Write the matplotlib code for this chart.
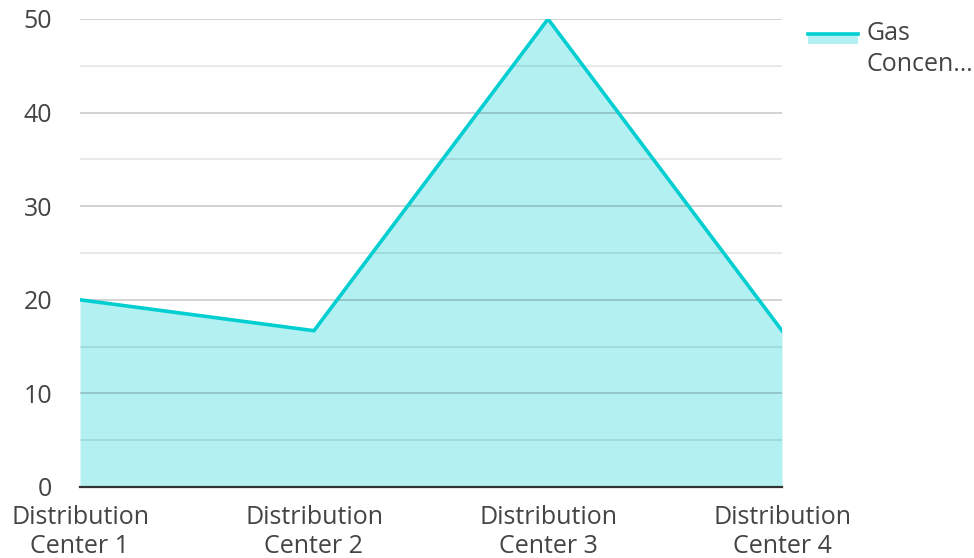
import matplotlib
matplotlib.use("Agg")
import matplotlib.pyplot as plt
from matplotlib.lines import Line2D
from matplotlib.patches import Rectangle

plt.rcParams['font.family'] = ['Open Sans', 'DejaVu Sans']

categories = ["Distribution\nCenter 1", "Distribution\nCenter 2", "Distribution\nCenter 3", "Distribution\nCenter 4"]
values = [20, 16.7, 50, 16.7]
series_label = "Gas\nConcen\u2026"
y_ticks = [0, 10, 20, 30, 40, 50]
y_minor = [5, 15, 25, 35, 45]

line_color = "#00CED1"
text_color = "#444444"
fs = 18

fig = plt.figure(figsize=(9.74, 5.58), dpi=100)
ax = fig.add_axes([80/974, 71/558, 702/974, 468/558])

x = list(range(len(categories)))
ax.fill_between(x, values, 0, color=line_color, alpha=0.3, linewidth=0, zorder=1)
ax.plot(x, values, color=line_color, linewidth=2.6, zorder=3, solid_joinstyle='miter')

ax.set_xlim(0, len(categories) - 1)
ax.set_ylim(0, 50)
ax.set_yticks(y_ticks)
ax.set_yticks(y_minor, minor=True)
ax.set_xticks(x)
ax.set_xticklabels(categories)

for v in y_ticks[1:]:
    ax.axhline(v, color="#000000", alpha=0.2, linewidth=1.2, zorder=2)
for v in y_minor:
    ax.axhline(v, color="#000000", alpha=0.1, linewidth=1.2, zorder=2)

for s in ["top", "right", "left"]:
    ax.spines[s].set_visible(False)
ax.spines["bottom"].set_color("#333333")
ax.spines["bottom"].set_linewidth(1.6)
ax.spines["bottom"].set_zorder(4)

ax.tick_params(axis="both", which="both", length=0, labelsize=fs, colors=text_color)
ax.tick_params(axis="y", pad=20)
ax.tick_params(axis="x", pad=13)
for lbl in ax.get_xticklabels():
    lbl.set_linespacing(1.2)

# legend
lx0, lx1 = 808/974, 858/974
fig.add_artist(Rectangle((lx0, 1 - 44/558), lx1 - lx0, 11/558, transform=fig.transFigure,
                         facecolor=line_color, alpha=0.3, edgecolor="none"))
fig.add_artist(Line2D([lx0, lx1], [1 - 33.5/558, 1 - 33.5/558], transform=fig.transFigure,
                      color=line_color, linewidth=2.6))
fig.text(866/974, 1 - 21/558, series_label, fontsize=fs, color=text_color,
         va="top", ha="left", linespacing=1.32, transform=fig.transFigure)

fig.savefig("out.png", dpi=100)
